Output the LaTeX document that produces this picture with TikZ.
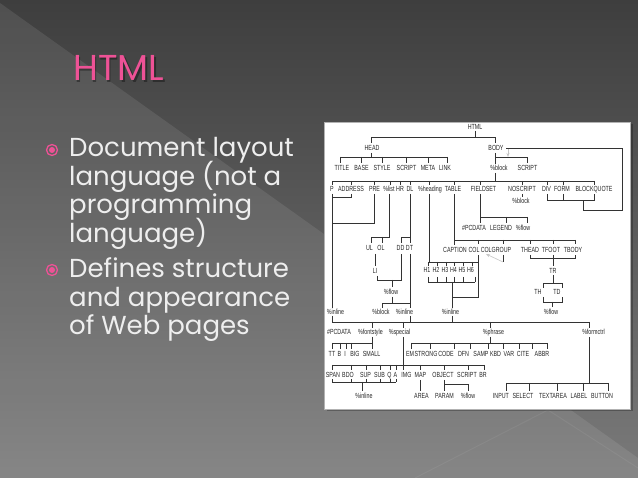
\documentclass[tikz,border=0pt]{standalone}
\usepackage{fontspec}
\setmainfont{Poppins}
\newfontfamily\diagfont[FakeStretch=0.72]{Liberation Sans}
\usetikzlibrary{arrows.meta}
\definecolor{pinkt}{RGB}{238,82,150}
\definecolor{bgtop}{RGB}{62,62,62}
\definecolor{bgbot}{RGB}{122,122,122}
\definecolor{bodytext}{RGB}{238,238,238}
\tikzset{
  lab/.style={anchor=base, inner sep=0pt, font=\diagfont\fontsize{7.4}{8}\selectfont, text=black!85},
  tr/.style={line width=0.6pt, black!80},
  garrow/.style={gray!45, line width=0.6pt, -{Stealth[length=4pt,width=3pt]}},
  bodyline/.style={anchor=base west, inner sep=0pt, text=bodytext, font=\fontsize{26}{28}\selectfont},
}
\newcommand\lab[4]{\node[lab] (#1) at (#2,#3) {#4};}
\begin{document}
\begin{tikzpicture}[x=1pt,y=-1pt]
\useasboundingbox (0,0) rectangle (638,478);
% background
\shade[top color=bgtop, bottom color=bgbot] (0,0) rectangle (638,478);
\fill[white, opacity=0.09] (0,3) -- (638,458) -- (638,478) -- (0,478) -- cycle;
\draw[white, opacity=0.06, line width=1pt] (415,478) -- (548,410) -- (638,468);
% title
\node[anchor=base west, inner sep=0pt, text=black, opacity=0.35, font=\fontsize{36}{36}\selectfont] at (74.5,82.5) {HTML};
\node[anchor=base west, inner sep=0pt, text=pinkt, font=\fontsize{36}{36}\selectfont] (title) at (73,81) {HTML};
% bullets
\draw[pinkt, line width=1.3pt] (52,150) circle[radius=5.5];
\fill[pinkt] (52,150) circle[radius=3];
\draw[pinkt, line width=1.3pt] (52,270) circle[radius=5.5];
\fill[pinkt] (52,270) circle[radius=3];
\node[bodyline] (b1) at (69,157) {Document layout};
\node[bodyline] (b2) at (69,185.5) {language (not a};
\node[bodyline] (b3) at (69,214) {programming};
\node[bodyline] (b4) at (69,242.5) {language)};
\node[bodyline] (b5) at (69,278) {Defines structure};
\node[bodyline] (b6) at (69,306.5) {and appearance};
\node[bodyline] (b7) at (69,335) {of Web pages};
% diagram box
\fill[black, opacity=0.25] (326.5,124.5) rectangle (632.5,411.5);
\fill[white] (324,122) rectangle (630,409);
\draw[gray!60, line width=0.6pt] (324,122) rectangle (630,409);
% labels
\lab{html}{475}{129.5}{HTML}
\lab{head}{372}{150.5}{HEAD}
\lab{body}{496}{150.5}{BODY}
\lab{title2}{342}{170.5}{TITLE}
\lab{base}{361.5}{170.5}{BASE}
\lab{style}{382}{170.5}{STYLE}
\lab{hscript}{406.5}{170.5}{SCRIPT}
\lab{meta}{428}{170.5}{META}
\lab{link}{445}{170.5}{LINK}
\lab{blk1}{499}{170.5}{\%block}
\lab{bscript}{527.5}{170.5}{SCRIPT}
\lab{p}{332}{191.5}{P}
\lab{address}{351}{191.5}{ADDRESS}
\lab{pre}{374.5}{191.5}{PRE}
\lab{list}{389}{191.5}{\%list}
\lab{hr}{400}{191.5}{HR}
\lab{dl}{410}{191.5}{DL}
\lab{heading}{430}{191.5}{\%heading}
\lab{table}{453}{191.5}{TABLE}
\lab{fieldset}{483.5}{191.5}{FIELDSET}
\lab{noscript}{522}{191.5}{NOSCRIPT}
\lab{div}{546.5}{191.5}{DIV}
\lab{form}{562}{191.5}{FORM}
\lab{bq}{594}{191.5}{BLOCKQUOTE}
\lab{blk2}{521}{203.5}{\%block}
\lab{pcd1}{474}{230.5}{\#PCDATA}
\lab{legend}{501}{230.5}{LEGEND}
\lab{flow1}{523}{230.5}{\%flow}
\lab{ul}{369.5}{251}{UL}
\lab{ol}{381}{251}{OL}
\lab{dd}{400.5}{251}{DD}
\lab{dt}{409.5}{251}{DT}
\lab{caption}{455}{252.5}{CAPTION}
\lab{col}{474}{252.5}{COL}
\lab{colgroup}{496}{252.5}{COLGROUP}
\lab{thead}{530}{252.5}{THEAD}
\lab{tfoot}{551}{252.5}{TFOOT}
\lab{tbody}{573}{252.5}{TBODY}
\lab{li}{375}{273.5}{LI}
\lab{h1}{427}{272.5}{H1}
\lab{h2}{436}{272.5}{H2}
\lab{h3}{445}{272.5}{H3}
\lab{h4}{453.5}{272.5}{H4}
\lab{h5}{462}{272.5}{H5}
\lab{h6}{470.5}{272.5}{H6}
\lab{tr}{553}{273.5}{TR}
\lab{flow2}{391}{294.5}{\%flow}
\lab{th}{538}{294.5}{TH}
\lab{td}{557}{294.5}{TD}
\lab{inl1}{335.5}{314.5}{\%inline}
\lab{blk3}{381}{314.5}{\%block}
\lab{inl2}{404.5}{314.5}{\%inline}
\lab{inl3}{450.5}{314.5}{\%inline}
\lab{flow3}{551}{314.5}{\%flow}
\lab{pcd2}{339}{334.5}{\#PCDATA}
\lab{fontstyle}{370.5}{334.5}{\%fontstyle}
\lab{special}{399.5}{334.5}{\%special}
\lab{phrase}{493.5}{334.5}{\%phrase}
\lab{formctrl}{593.5}{334.5}{\%formctrl}
\lab{tt}{332}{356.5}{TT}
\lab{b}{339.5}{356.5}{B}
\lab{i}{345}{356.5}{I}
\lab{big}{355}{356.5}{BIG}
\lab{small}{371.5}{356.5}{SMALL}
\lab{em}{410}{356.5}{EM}
\lab{strong}{426}{356.5}{STRONG}
\lab{code}{446}{356.5}{CODE}
\lab{dfn}{463.5}{356.5}{DFN}
\lab{samp}{481}{356.5}{SAMP}
\lab{kbd}{495.5}{356.5}{KBD}
\lab{var}{509}{356.5}{VAR}
\lab{cite}{523}{356.5}{CITE}
\lab{abbr}{542}{356.5}{ABBR}
\lab{span}{333}{377.5}{SPAN}
\lab{bdo}{348}{377.5}{BDO}
\lab{sup}{365.5}{377.5}{SUP}
\lab{sub}{379.5}{377.5}{SUB}
\lab{q}{389.5}{377.5}{Q}
\lab{a}{395.5}{377.5}{A}
\lab{img}{406.5}{377.5}{IMG}
\lab{map}{420.5}{377.5}{MAP}
\lab{object}{443}{377.5}{OBJECT}
\lab{script3}{467}{377.5}{SCRIPT}
\lab{br}{483}{377.5}{BR}
\lab{inl4}{364}{398.5}{\%inline}
\lab{area}{421.5}{398.5}{AREA}
\lab{param}{444.5}{398.5}{PARAM}
\lab{flow4}{468}{398.5}{\%flow}
\lab{input}{501}{398.5}{INPUT}
\lab{select}{523}{398.5}{SELECT}
\lab{textarea}{553}{398.5}{TEXTAREA}
\lab{label}{579}{398.5}{LABEL}
\lab{button}{602}{398.5}{BUTTON}
% connectors
\begin{scope}[tr]
% HTML
\draw (475,131) -- (475,137);
\draw (371,143) -- (371,137) -- (495,137) -- (495,143);
% HEAD
\draw (371,153) -- (371,157);
\draw (340,157) -- (447,157);
\foreach \x in {340,361,382,406,428,447} \draw (\x,157) -- (\x,163);
% BODY
\draw (495,153) -- (495,164);
\draw (495,157) -- (527,157) -- (527,163);
\draw (506,148) -- (622,148) -- (622,210) -- (583,210) -- (583,200);
% %block -> row 3
\draw (495,173) -- (495,181);
\draw (332,181) -- (594,181);
\foreach \x in {332,351,374,390,400,410,429,454,480,522,547,563,594} \draw (\x,181) -- (\x,185);
% P ADDRESS
\draw (351,194) -- (351,197) -- (332,197);
\draw (332,194) -- (332,308);
% PRE
\draw (374,194) -- (374,223) -- (332,223);
% %list
\draw (389,194) -- (389,237) -- (371,237) -- (371,243);
\draw (382,237) -- (382,243);
\draw (375,254) -- (375,266);
\draw (377,276) -- (377,280) -- (401,280) -- (401,254);
\draw (392,280) -- (392,287);
% DL
\draw (410,194) -- (410,237) -- (401,237) -- (401,243);
\draw (410,237) -- (410,243);
\draw (410,254) -- (410,308);
% %flow -> %block %inline
\draw (392,297) -- (392,303);
\draw (382,308) -- (382,303) -- (410,303);
% %heading
\draw (429,194) -- (429,262) -- (478,262);
\foreach \x in {428,437,446,454,463,472} \draw (\x,262) -- (\x,266);
\draw (428,277) -- (428,282) -- (475,282);
\foreach \x in {437,446,454,463,475} \draw (\x,277) -- (\x,282);
\draw (452,282) -- (452,308);
\draw (452,297) -- (478,297) -- (478,255);
% TABLE
\draw (454,194) -- (454,245);
\draw (454,240) -- (575,240);
\foreach \x in {478,503,530,553,575} \draw (\x,240) -- (\x,244);
\draw (503,255) -- (503,262);
\draw (530,255) -- (530,258) -- (575,258) -- (575,255);
\draw (553,255) -- (553,266);
\draw (553,275) -- (553,283);
\draw (543,288) -- (543,283) -- (562,283) -- (562,288);
\draw (543,297) -- (543,302) -- (562,302) -- (562,297);
\draw (552,302) -- (552,307);
% FIELDSET
\draw (480,194) -- (480,217) -- (527,217);
\foreach \x in {480,506,527} \draw (\x,217) -- (\x,223);
% NOSCRIPT
\draw (522,194) -- (522,197);
% DIV FORM BLOCKQUOTE
\draw (547,194) -- (547,200) -- (594,200) -- (594,194);
\draw (563,194) -- (563,200);
% %inline line
\draw (332,316) -- (332,322);
\draw (410,316) -- (410,322);
\draw (452,316) -- (452,322);
\draw (332,322) -- (589,322);
\foreach \x in {372,403,490,589} \draw (\x,322) -- (\x,328);
% %fontstyle
\draw (372,337) -- (372,343);
\draw (332,343) -- (372,343);
\foreach \x in {332,340,346,351,372} \draw (\x,343) -- (\x,349);
% %special
\draw (403,337) -- (403,365);
\draw (332,365) -- (484,365);
\foreach \x in {332,351,366,380,390,396,403,420,444,468,484} \draw (\x,365) -- (\x,370);
\foreach \x in {332,351,366,380,390,396} \draw (\x,379) -- (\x,382);
\draw (332,382) -- (396,382);
\draw (362,382) -- (362,391);
\draw (420,380) -- (420,391);
\draw (444,380) -- (444,391);
\draw (444,384) -- (468,384) -- (468,391);
% %phrase
\draw (490,337) -- (490,343);
\draw (411,343) -- (547,343);
\foreach \x in {411,430,454,470,488,503,519,532,547} \draw (\x,343) -- (\x,349);
% %formctrl
\draw (589,337) -- (589,383);
\draw (506,383) -- (608,383);
\foreach \x in {506,529,557,583,608} \draw (\x,383) -- (\x,391);
\end{scope}
% grey arrows
\draw[garrow] (508,149) -- (508,157);
\draw[garrow] (503,262) -- (486,254);
\end{tikzpicture}
\end{document}
